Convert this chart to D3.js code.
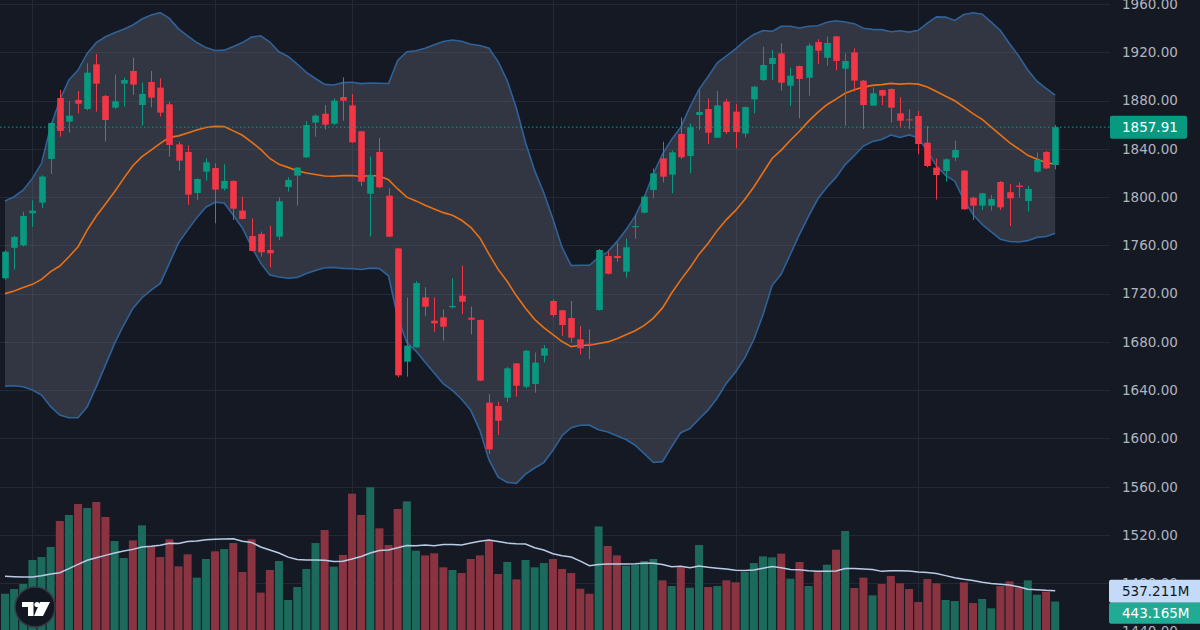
<!DOCTYPE html>
<html><head><meta charset="utf-8">
<script src="https://cdn.jsdelivr.net/npm/d3@7"></script>
<style>html,body{margin:0;padding:0;background:#151924;overflow:hidden}</style>
</head><body><svg id="c" width="1200" height="630"></svg>
<script>
// ---- data ----
const opens = [1732.7,1758,1760,1786.6,1795.4,1831.6,1882.1,1862.5,1880.5,1873,
1910,1883.8,1874.1,1894,1904.5,1876.3,1895.4,1890.7,1876.9,1843.7,
1837.4,1803.4,1821.1,1824.1,1807,1813.4,1788.8,1767.8,1769.4,1756.2,
1767.2,1808.4,1817.8,1832.9,1861.7,1869.1,1860.8,1882.9,1876,1854.5,
1802.8,1837.4,1801.2,1757.5,1663.6,1675.5,1716.9,1697.6,1700.4,1708.7,
1718.3,1700.1,1698.2,1629.7,1626.9,1633.8,1662.2,1642.9,1645.1,1668.6,
1713.9,1706.2,1699.8,1682.1,1678.5,1706.4,1751.2,1751.2,1738.2,1775,
1787.1,1805.9,1832.1,1818.6,1852.3,1834.1,1868,1873,1849.2,1879.1,
1870.8,1852.6,1881,1897,1910.3,1919.1,1892.3,1908.6,1898.9,1928.5,
1915.5,1933.2,1906.4,1919.9,1896.5,1875.8,1888.7,1889.6,1869.4,1864.4,
1867.2,1845.1,1824.4,1821.6,1832.7,1821.9,1799.5,1792.9,1792.9,1812.5,
1804,1809.5,1796.8,1821.1,1837.4,1826.6];
const highs = [1756,1768,1788,1797.3,1818,1862,1888.8,1879.7,1887.9,1910.9,
1918.6,1884.6,1901.5,1899,1915.5,1894.8,1904.5,1898.4,1879.1,1846,
1842.9,1815.5,1832.1,1828,1827.2,1814,1800.4,1782.4,1771.4,1776.3,
1799.8,1816.4,1825,1863,1868.6,1876.3,1881.8,1899.2,1885.4,1855,
1833.5,1849,1807.3,1758,1716.9,1730.5,1725.2,1716.9,1707,1732.7,
1743.2,1709.2,1698.5,1636.6,1630.5,1659.2,1662.5,1673.5,1671.3,1677.4,
1715.3,1706.5,1713.9,1693.2,1690.4,1757,1754.8,1762.2,1765.8,1784.6,
1801.7,1823.8,1845.9,1838.5,1866.1,1861.1,1888.7,1881.8,1887.9,1881.3,
1877.1,1875,1892.3,1924.6,1921.9,1927.4,1907.2,1909,1927.4,1930.7,
1933,1933.5,1919.1,1923.3,1897,1891,1889,1890,1882.7,1872.7,
1871.3,1858.9,1832.1,1832.1,1846.7,1822.4,1800.4,1803.5,1801.7,1813.3,
1810.8,1812,1809.2,1836.8,1838.2,1859.7];
const lows = [1731.5,1740,1759,1775.2,1790.7,1819.2,1850.1,1853.4,1869.4,1871.9,
1870.8,1846,1873,1875,1884.6,1859.2,1874.4,1866.7,1833.5,1821.9,
1793.5,1797.6,1813.6,1778.3,1805.4,1781,1781.5,1755,1750.7,1741.8,
1764.4,1804.5,1792.9,1832.5,1850,1856.1,1859.7,1863.3,1845,1809.2,
1767.2,1807.3,1767,1650.7,1651.2,1675,1701.5,1688.5,1681,1707.8,
1703.1,1686.3,1647.5,1587.1,1602.9,1630,1634.6,1641.5,1637.9,1663,
1700.4,1684.9,1679.4,1669.7,1665.6,1706,1736,1746.5,1733.2,1765.5,
1786.5,1799,1812.2,1803.1,1831.6,1819.7,1855.6,1844,1849,1852.3,
1840.4,1849.5,1869.4,1896.2,1897,1888.2,1875.5,1865.3,1884,1910.3,
1908.9,1905,1859.2,1887.4,1856.4,1875.5,1876.3,1861.7,1858.4,1856.4,
1835.7,1824.7,1798.1,1812.8,1829.9,1789.5,1781,1789.3,1788.8,1789.3,
1776,1799.8,1788,1820.2,1823.3,1823];
const closes = [1754.8,1767,1784.4,1788.8,1817,1861.4,1854.8,1867.5,1877.4,1903.1,
1894,1863.9,1879.4,1897,1893.2,1885.5,1882.4,1870,1843.2,1830.2,
1802,1815,1828.8,1806.2,1813.4,1790.4,1781.9,1755.4,1754.3,1753.4,
1796.5,1814.2,1824.4,1859.7,1867.5,1860,1879.9,1879.9,1845.4,1812.8,
1818.3,1808.1,1767.2,1652.3,1676.9,1728.8,1709.2,1695.4,1692.6,1709.8,
1713.3,1698.4,1647.9,1591,1614.7,1658.1,1643.7,1672.7,1662.8,1674.7,
1702.3,1694,1683.5,1674.7,1677.7,1756.2,1736.5,1749.5,1758.4,1776,
1800.4,1819.7,1816.9,1837.1,1833,1857.8,1870.5,1853.4,1876,1853.9,
1853.9,1874.6,1891.5,1909.5,1915.3,1894.8,1900.6,1897.9,1925.5,1921.3,
1927.7,1912.8,1912.8,1896.5,1876.3,1886,1884,1874.1,1863.3,1863.6,
1844,1825.8,1818.3,1831.3,1839,1789.9,1792.9,1803.1,1798.4,1791.5,
1799,1808.4,1806.7,1830.7,1823.8,1857.91];
// volume in millions
const volumes = [514,557,603,822,849,941,1178,1233,1333,1297,
1352,1215,995,840,1001,1138,950,849,1011,764,
874,661,831,901,922,977,712,1011,524,731,
813,457,575,740,977,1096,761,868,1428,1233,
1486,1111,959,1288,1358,907,864,883,755,731,
703,831,864,998,694,804,645,822,755,794,
831,740,703,560,514,1129,950,864,770,779,
813,831,636,584,755,569,959,575,584,636,
618,712,794,855,846,880,651,804,584,712,
779,916,1087,566,661,499,603,676,609,557,
438,648,609,457,447,618,429,466,381,584,
627,572,636,505,533,443.165];
// Bollinger band / volume MA values for the first 19 bars (history before the visible window)
const bbUpperWarm = [1796.7,1800.3,1805.9,1815.5,1828,1858.3,1880.4,1897,1905.3,1919.1,1928,1932.9,1936.2,1939,1942.6,1947.6,1950.9,1952.8,1948.1];
const bbBasisWarm = [1720,1722.2,1725,1727.7,1731.8,1738.2,1742.9,1750.6,1758.9,1772.7,1784.3,1794.3,1804.5,1815.5,1826,1833.5,1839,1844.5,1849.5];
const bbLowerWarm = [1643.4,1643.7,1642.9,1640.1,1636,1626.3,1619.4,1617.2,1617.2,1626.3,1642.9,1660.8,1678.8,1694,1707.8,1716.6,1723,1728.5,1745.1];
const volMaWarm = [673,670,667,667,679,694,706,743,782,819,843,864,886,904,919,941,947,956,974];
const priceTicks = [1960,1920,1880,1840,1800,1760,1720,1680,1640,1600,1560,1520,1480,1440];
const gridIndices = [3,23,38,60,80,100];
const lastPrice = 1857.91;
const volMaLabel = "537.211M";
const volLastLabel = "443.165M";
const volMaLast = 537.211;

// ---- derived indicators ----
const N = closes.length;
const bbUpper = [], bbBasis = [], bbLower = [], volMa = [];
for (let i = 0; i < N; i++) {
  if (i < 19) { bbUpper.push(bbUpperWarm[i]); bbBasis.push(bbBasisWarm[i]); bbLower.push(bbLowerWarm[i]); volMa.push(volMaWarm[i]); continue; }
  const w = closes.slice(i - 19, i + 1);
  const m = d3.mean(w);
  const sd = Math.sqrt(d3.mean(w, v => (v - m) * (v - m)));
  bbUpper.push(m + 2 * sd); bbBasis.push(m); bbLower.push(m - 2 * sd);
  volMa.push(d3.mean(volumes.slice(i - 19, i + 1)));
}

// ---- scales ----
const W = 1200, H = 630, plotRight = 1110;
const x = d3.scaleLinear().domain([0, N - 1]).range([5, 1055.2]);
const y = d3.scaleLinear().domain([1520, 1960]).range([535, 4]);
const yv = d3.scaleLinear().domain([0, 1000]).range([650, 540.5]);

const svg = d3.select("#c");
const FONT = "'DejaVu Sans', sans-serif";
svg.append("rect").attr("width", W).attr("height", H).attr("fill", "#151924");

// grid
const grid = svg.append("g").attr("stroke", "#242834").attr("stroke-width", 1);
grid.selectAll("line.h").data(priceTicks).join("line")
  .attr("x1", 0).attr("x2", plotRight)
  .attr("y1", d => Math.round(y(d)) + 0.5).attr("y2", d => Math.round(y(d)) + 0.5);
grid.selectAll("line.v").data(gridIndices).join("line")
  .attr("x1", d => Math.round(x(d)) + 0.5).attr("x2", d => Math.round(x(d)) + 0.5)
  .attr("y1", 0).attr("y2", H);

const idx = d3.range(N);
// band fill
svg.append("path").datum(idx)
  .attr("d", d3.area().x(i => x(i)).y0(i => y(bbLower[i])).y1(i => y(bbUpper[i])))
  .attr("fill", "rgba(120,124,138,0.3)");
const bandLine = arr => d3.line().x(i => x(i)).y(i => y(arr[i]));
svg.append("path").datum(idx).attr("d", bandLine(bbUpper)).attr("fill", "none").attr("stroke", "#2e6299").attr("stroke-width", 1.6);
svg.append("path").datum(idx).attr("d", bandLine(bbLower)).attr("fill", "none").attr("stroke", "#2e6299").attr("stroke-width", 1.6);
svg.append("path").datum(idx).attr("d", bandLine(bbBasis)).attr("fill", "none").attr("stroke", "#ea7014").attr("stroke-width", 1.6);

// volume
const up = i => closes[i] >= opens[i];
svg.append("g").selectAll("rect").data(idx).join("rect")
  .attr("x", i => x(i) - 4).attr("width", 8)
  .attr("y", i => yv(volumes[i])).attr("height", i => yv(0) - yv(volumes[i]))
  .attr("fill", i => up(i) ? "#1c6a5c" : "#8a3442");
svg.append("path").datum(idx)
  .attr("d", d3.line().x(i => x(i)).y(i => yv(volMa[i])))
  .attr("fill", "none").attr("stroke", "#b9cbe6").attr("stroke-width", 1.5);

// candles
const cg = svg.append("g");
cg.selectAll("line").data(idx).join("line")
  .attr("x1", i => Math.round(x(i)) + 0.5).attr("x2", i => Math.round(x(i)) + 0.5)
  .attr("y1", i => y(highs[i])).attr("y2", i => y(lows[i]))
  .attr("stroke", i => up(i) ? "#089981" : "#f23645").attr("stroke-width", 1);
cg.selectAll("rect").data(idx).join("rect")
  .attr("x", i => Math.round(x(i)) + 0.5 - 3.3).attr("width", 6.6)
  .attr("y", i => y(Math.max(opens[i], closes[i])))
  .attr("height", i => Math.max(1, Math.abs(y(opens[i]) - y(closes[i]))))
  .attr("fill", i => up(i) ? "#089981" : "#f23645");

// last price dotted line
svg.append("line").attr("x1", 0).attr("x2", plotRight)
  .attr("y1", y(lastPrice)).attr("y2", y(lastPrice))
  .attr("stroke", "#089981").attr("stroke-width", 1).attr("stroke-dasharray", "1.5,2.5");

// price axis
const axis = svg.append("g").attr("transform", `translate(${plotRight},0)`)
  .call(d3.axisRight(y).tickValues(priceTicks).tickFormat(d3.format(".2f")).tickSize(0).tickPadding(12));
axis.select(".domain").remove();
axis.selectAll("text").attr("fill", "#b2b5be").style("font-family", FONT).style("font-size", "13.5px");

// last price label
const ly = y(lastPrice);
svg.append("rect").attr("x", plotRight).attr("y", ly - 11.5).attr("width", 77).attr("height", 23).attr("rx", 2).attr("fill", "#089981");
svg.append("text").attr("x", plotRight + 12).attr("y", ly).attr("dy", "0.36em")
  .attr("fill", "#ffffff").style("font-family", FONT).style("font-size", "13.5px").text(d3.format(".2f")(lastPrice));

// volume labels
const my = yv(volMaLast);
svg.append("rect").attr("x", plotRight - 1).attr("y", my - 11.5).attr("width", 92).attr("height", 23).attr("rx", 2).attr("fill", "#c3dbf8");
svg.append("text").attr("x", plotRight + 12).attr("y", my).attr("dy", "0.36em")
  .attr("fill", "#131722").style("font-family", FONT).style("font-size", "13.5px").text(volMaLabel);
svg.append("rect").attr("x", plotRight - 1).attr("y", my + 11.5).attr("width", 92).attr("height", 21).attr("rx", 2).attr("fill", "#22ab94");
svg.append("text").attr("x", plotRight + 12).attr("y", my + 22).attr("dy", "0.36em")
  .attr("fill", "#ffffff").style("font-family", FONT).style("font-size", "13.5px").text(volLastLabel);

// TradingView logo
const logo = svg.append("g").attr("transform", "translate(35,607)");
logo.append("circle").attr("r", 20).attr("fill", "#131722").attr("stroke", "#363a45").attr("stroke-width", 1.5);
logo.append("path").attr("d", "M-13,-5 H-1.5 V9 H-7 V0 H-13 Z").attr("fill", "#fff");
logo.append("circle").attr("cx", 2).attr("cy", -2.5).attr("r", 2.6).attr("fill", "#fff");
logo.append("path").attr("d", "M5,-5 H15 L8,9 H-1 Z").attr("fill", "#fff");
</script></body></html>
